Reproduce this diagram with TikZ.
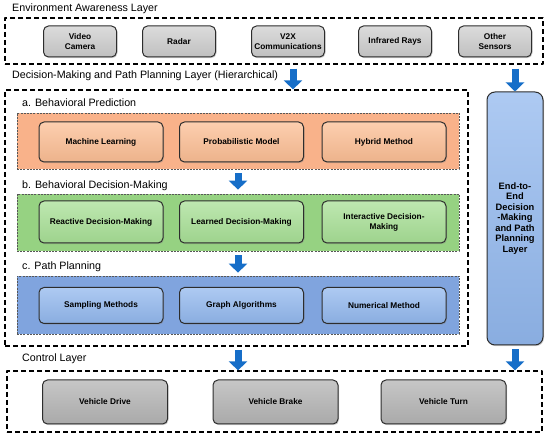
\documentclass[tikz,border=0pt]{standalone}
\usepackage{fontspec}
\setmainfont{Liberation Sans}
\usepackage{tikz}
\usetikzlibrary{arrows.meta, shadows, positioning}
\usepackage{xcolor}
\definecolor{nodegray}{RGB}{208,208,208}
\definecolor{ctrlgray}{RGB}{184,184,184}
\definecolor{bandorange}{RGB}{249,178,138}
\definecolor{nodeorange}{RGB}{252,190,148}
\definecolor{bandgreen}{RGB}{150,210,130}
\definecolor{nodegreen}{RGB}{168,224,150}
\definecolor{bandblue}{RGB}{128,164,222}
\definecolor{nodeblue}{RGB}{146,184,238}
\definecolor{arrowblue}{RGB}{22,110,200}
\definecolor{edgedark}{RGB}{45,45,45}
\tikzset{basenode/.style={rectangle, rounded corners=5pt, draw=edgedark, line width=1pt, align=center,
    font=\fontsize{8.3}{10}\selectfont\bfseries, inner sep=1pt,
    drop shadow={shadow xshift=1pt, shadow yshift=-1.2pt, opacity=0.35}},
graynode/.style={basenode, top color=nodegray!75, bottom color=nodegray!92!black},
ctrlnode/.style={basenode, top color=ctrlgray!80, bottom color=ctrlgray!92!black},
orangenode/.style={basenode, top color=nodeorange!75, bottom color=nodeorange!94!black},
greennode/.style={basenode, top color=nodegreen!75, bottom color=nodegreen!94!black},
bluenode/.style={basenode, top color=nodeblue!75, bottom color=nodeblue!94!black}}
\tikzset{layerbox/.style={draw=black, line width=1.2pt, dash pattern=on 5pt off 3pt},
bandbox/.style={draw=edgedark!80, line width=0.7pt, dash pattern=on 2pt off 1.2pt},
layertitle/.style={anchor=west, inner sep=0pt, font=\fontsize{10.7}{12}\selectfont},
bluearrow/.style={draw=arrowblue, line width=7pt, -{Triangle[width=18pt, length=9pt]}}}

\begin{document}
\begin{tikzpicture}[x=1pt, y=-1pt, line join=round]
        \useasboundingbox (0,0) rectangle (550,433);
        % Layers
        \node[layerbox, minimum width=538pt, minimum height=46pt] (env) at (274,41) {};
        \node[layerbox, minimum width=463pt, minimum height=256pt] (dec) at (236.5,218) {};
        \node[layerbox, minimum width=535pt, minimum height=61pt] (ctrl) at (274.5,401.5) {};
        \node[bandbox, fill=bandorange, minimum width=442pt, minimum height=56pt] (pred) at (238,141) {};
        \node[bandbox, fill=bandgreen, minimum width=442pt, minimum height=57pt] (decm) at (238,222.5) {};
        \node[bandbox, fill=bandblue, minimum width=442pt, minimum height=58pt] (plan) at (238,305) {};
        % Titles
        \node[layertitle] (envtitle) at (12,9) {Environment Awareness Layer};
        \node[layertitle] (dectitle) at (12,76) {Decision-Making and Path Planning Layer (Hierarchical)};
        \node[layertitle] (predtitle) at (22,103) {a. Behavioral Prediction};
        \node[layertitle] (decmtitle) at (22,186) {b. Behavioral Decision-Making};
        \node[layertitle] (plantitle) at (22,267) {c. Path Planning};
        \node[layertitle] (ctrltitle) at (22,359) {Control Layer};
        % Environment nodes
        \foreach \x/\name/\txt in {
            80/cam/Video\\Camera,
            179/radar/Radar,
            288/v2x/V2X\\Communications,
            395/infra/Infrared Rays,
            495/other/Other\\Sensors} {
            \node[graynode, minimum width=73pt, minimum height=31pt] (\name) at (\x,41.5) {\txt};
        }
        % Hierarchical nodes
        \foreach \x/\name/\txt in {
            101/ml/Machine Learning,
            241.5/pm/Probabilistic Model,
            384/hm/Hybrid Method} {
            \node[orangenode, minimum width=124pt, minimum height=40pt] (\name) at (\x,142) {\txt};
        }
        \foreach \x/\name/\txt in {
            101/rdm/Reactive Decision-Making,
            241.5/ldm/Learned Decision-Making,
            384/idm/Interactive Decision-\\Making} {
            \node[greennode, minimum width=124pt, minimum height=42pt] (\name) at (\x,222) {\txt};
        }
        \foreach \x/\name/\txt in {
            101/sm/Sampling Methods,
            241.5/ga/Graph Algorithms,
            384/nm/Numerical Method} {
            \node[bluenode, minimum width=124pt, minimum height=36pt] (\name) at (\x,305.5) {\txt};
        }
        % End-to-end layer
        \node[bluenode, rounded corners=8pt, minimum width=56pt, minimum height=253pt,
            font=\fontsize{9.3}{10.5}\selectfont\bfseries] (e2e) at (515,218.5)
            {End-to-\\End\\Decision\\-Making\\and Path\\Planning\\Layer};
        % Control nodes
        \foreach \x/\name/\txt in {
            105/drive/Vehicle Drive,
            275.5/brake/Vehicle Brake,
            443.5/turn/Vehicle Turn} {
            \node[ctrlnode, minimum width=125pt, minimum height=44pt] (\name) at (\x,402) {\txt};
        }
        % Arrows
        \coordinate (colA) at (293,0);
        \coordinate (colB) at (238,0);
        \draw[bluearrow, shorten <=4pt] (env.south -| colA) -- (dec.north -| colA);
        \draw[bluearrow, shorten <=4pt] (env.south -| e2e.north) -- (e2e.north);
        \draw[bluearrow, shorten <=4pt, shorten >=4pt] (pred.south -| colB) -- (decm.north -| colB);
        \draw[bluearrow, shorten <=4pt, shorten >=3pt] (decm.south -| colB) -- (plan.north -| colB);
        \draw[bluearrow, shorten <=3pt] (dec.south -| colB) -- (ctrl.north -| colB);
        \draw[bluearrow, shorten <=4pt] (e2e.south) -- (ctrl.north -| e2e.south);
    \end{tikzpicture}
\end{document}
